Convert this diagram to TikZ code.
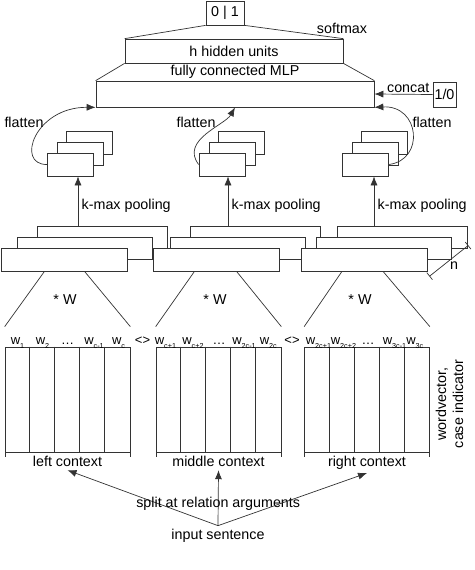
\documentclass[tikz,border=0pt]{standalone}
\usepackage{fontspec}
\setmainfont{Liberation Sans}
\usetikzlibrary{positioning,calc,arrows.meta}

\newcommand{\wsub}[1]{\raisebox{-0.6ex}{\fontsize{7.2}{8}\selectfont #1}}

\tikzset{
  box/.style={draw, fill=white, inner sep=1pt},
  conv/.style={box, minimum height=22pt},
  pool/.style={box, minimum width=46pt, minimum height=23pt},
  words/.style={draw, minimum width=125pt, minimum height=105pt, inner sep=0pt},
  wlab/.style={anchor=base, inner sep=0pt, font=\fontsize{13}{15}\selectfont},
  wlabw/.style={wlab, anchor=base west},
  dimbar/.style={arrows={Bar[width=9pt]-Bar[width=9pt]}},
}

\begin{document}
\begin{tikzpicture}[x=1pt, y=1pt, color=black!80, text=black,
  line width=0.7pt, font=\fontsize{14.3}{17}\selectfont,
  >={Latex[length=9pt,width=7pt]}]
\useasboundingbox (0,0) rectangle (474,-570);

% output and MLP
\node[box, minimum width=38pt, minimum height=24pt] (out) at (225,-13) {0 | 1};
\node[box, minimum width=218pt, minimum height=24pt] (hid) at (234,-51) {h hidden units};
\node[box, minimum width=278pt, minimum height=26pt] (mlp) at (235,-94) {};
\node[box, minimum width=23pt, minimum height=25pt] (cc) at (444.5,-94.5) {1/0};
\draw (out.south west) -- (hid.north west);
\draw (out.south east) -- (hid.north east);
\draw (hid.south west) -- (mlp.north west);
\draw (hid.south east) -- (mlp.north east);
\node (smx) at (342,-28) {softmax};
\node (fc) at (235,-72) {fully connected MLP};
\draw[->] (cc.west) -- (mlp.east) node[pos=0.42, above, inner sep=1.5pt] {concat};

% pooled feature maps
\node[pool] (lp3) at (89.5,-142.5) {};
\node[pool] (lp2) at (80.5,-153.5) {};
\node[pool] (lp1) at (70.5,-164.5) {};
\node[pool] (mp3) at (241,-142.5) {};
\node[pool] (mp2) at (232,-153.5) {};
\node[pool] (mp1) at (222,-164.5) {};
\node[pool] (rp3) at (384.5,-142.5) {};
\node[pool] (rp2) at (375.5,-153.5) {};
\node[pool] (rp1) at (365.5,-164.5) {};

\draw[->] (lp1.west) .. controls (15,-165) and (35,-107) .. (mlp.south west);
\draw[->] (mp1.west) .. controls (180,-140) and (225,-125) .. (mlp.south);
\draw[->] (rp1.east) .. controls (425,-160) and (420,-105) .. (mlp.south east);
\node (fl) at (24,-122) {flatten};
\node (fm) at (196,-122) {flatten};
\node (fr) at (432,-122) {flatten};

% convolution layers
\node[conv, minimum width=130pt] (lc3) at (102,-237) {};
\node[conv, minimum width=135pt] (lc2) at (84.5,-248) {};
\node[conv, minimum width=126pt, minimum height=23pt] (lc1) at (64.5,-259.5) {};
\node[conv, minimum width=130pt] (mc3) at (255.5,-237) {};
\node[conv, minimum width=135pt] (mc2) at (237.5,-248) {};
\node[conv, minimum width=126pt, minimum height=23pt] (mc1) at (216.5,-259.5) {};
\node[conv, minimum width=130pt] (rc3) at (402,-237) {};
\node[conv, minimum width=135pt] (rc2) at (384,-248) {};
\node[conv, minimum width=126pt, minimum height=23pt] (rc1) at (364,-259.5) {};
\draw[dimbar] ($(rc3.south east)+(1,3)$) -- ($(rc1.south east)+(2,-5)$)
  node[pos=0.5, anchor=north west, inner sep=1pt] {n};

\draw[->] ($(lp1.south |- lc3.north)+(7.5,0)$) -- ($(lp1.south)+(7.5,0)$)
  node[pos=0.4, right] {k-max pooling};
\draw[->] ($(mp1.south |- mc3.north)+(6,0)$) -- ($(mp1.south)+(6,0)$)
  node[pos=0.4, right] {k-max pooling};
\draw[->] ($(rp1.south |- rc3.north)+(8.5,0)$) -- ($(rp1.south)+(8.5,0)$)
  node[pos=0.4, right] {k-max pooling};

% word vectors
\node[words] (wl) at (67.5,-399.5) {};
\node[words] (wm) at (218.5,-399.5) {};
\node[words] (wr) at (367,-399.5) {};
\foreach \b in {wl,wm,wr}
  \foreach \i in {1,...,4}
    \draw ($(\b.north west)+(\i*25,0)$) -- ($(\b.south west)+(\i*25,0)$);

\draw ($(lc1.south)+(-20,0)$) -- ($(wl.north west)+(0,20)$);
\draw ($(lc1.south)+(20,0)$) -- ($(wl.north east)+(0,20)$);
\draw ($(mc1.south)+(-22,0)$) -- ($(wm.north west)+(0,20)$);
\draw ($(mc1.south)+(20,0)$) -- ($(wm.north east)+(0,20)$);
\draw ($(rc1.south)+(-22,0)$) -- ($(wr.north west)+(0,20)$);
\draw ($(rc1.south)+(19,0)$) -- ($(wr.north east)+(0,20)$);
\node (sw1) at (65,-300) {* W};
\node (sw2) at (215,-300) {* W};
\node (sw3) at (360,-300) {* W};

\node[wlab] (w1) at (17.5,-344) {w\wsub{1}};
\node[wlab] (w2) at (42.5,-344) {w\wsub{2}};
\node[wlab] (w3) at (67.5,-344) {\dots};
\node[wlab] (w4) at (94,-344) {w\wsub{c-1}};
\node[wlab] (w5) at (118.5,-344) {w\wsub{c}};
\node[wlab] (ne1) at (142.5,-344) {<>};
\node[wlabw] (w6) at (154.5,-344) {w\wsub{c+1}};
\node[wlabw] (w7) at (182,-344) {w\wsub{c+2}};
\node[wlab] (w8) at (219,-344) {\dots};
\node[wlabw] (w9) at (232,-344) {w\wsub{2c-1}};
\node[wlabw] (w10) at (259.5,-344) {w\wsub{2c}};
\node[wlab] (ne2) at (292,-344) {<>};
\node[wlabw] (w11) at (305.5,-344) {w\wsub{2c+1}};
\node[wlabw] (w12) at (330.5,-344) {w\wsub{2c+2}};
\node[wlab] (w13) at (368,-344) {\dots};
\node[wlabw] (w14) at (382.5,-344) {w\wsub{3c-1}};
\node[wlabw] (w15) at (406,-344) {w\wsub{3c}};
\node[rotate=90, align=center] (wv) at (449.5,-404) {wordvector,\\case indicator};

% contexts and input
\draw[dimbar] (wl.south west) -- (wl.south east);
\draw[dimbar] (wm.south west) -- (wm.south east);
\draw[dimbar] (wr.south west) -- (wr.south east);
\node[below=0pt of wl] (lctx) {left context};
\node[below=0pt of wm] (mctx) {middle context};
\node[below=0pt of wr] (rctx) {right context};
\node (inp) at (218,-536) {input sentence};
\draw[->] (inp.north) -- (lctx.south);
\draw[->] (inp.north) -- (mctx.south) node[pos=0.4] {split at relation arguments};
\draw[->] (inp.north) -- (rctx.south);
\end{tikzpicture}
\end{document}
